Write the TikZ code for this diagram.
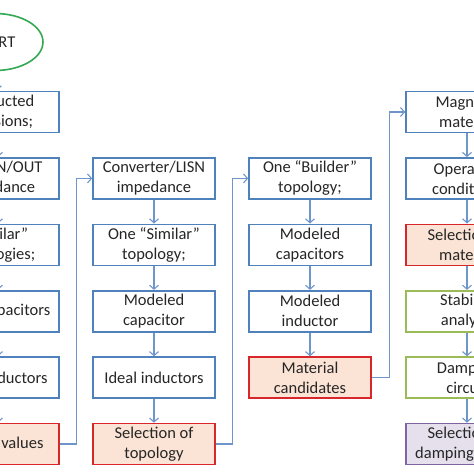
\documentclass[tikz,border=0pt]{standalone}
\usepackage{fontspec}
\setmainfont{Carlito}
\usetikzlibrary{arrows.meta,shapes.geometric}

\definecolor{boxblue}{HTML}{4F81BD}
\definecolor{flowblue}{HTML}{6E96CA}
\definecolor{pickred}{HTML}{D9262A}
\definecolor{pickfill}{HTML}{FBE4D5}
\definecolor{checkgreen}{HTML}{9BBB59}
\definecolor{damppurple}{HTML}{8064A2}
\definecolor{dampfill}{HTML}{E5E0EC}
\definecolor{startgreen}{HTML}{34A853}

\begin{document}
\begin{tikzpicture}[x=1pt,y=-1pt,node distance=66.4pt,
  every node/.style={font=\fontsize{16.5}{20}\selectfont,text=black!85},
  block/.style={draw=boxblue,line width=1.6pt,fill=white,minimum width=122pt,minimum height=41pt,align=center,inner sep=1pt},
  pick/.style={block,draw=pickred,fill=pickfill},
  check/.style={block,draw=checkgreen},
  damp/.style={block,draw=damppurple,fill=dampfill},
  start/.style={ellipse,draw=startgreen,line width=1.6pt,fill=white,minimum width=96pt,minimum height=57pt},
  flow/.style={->,>={Straight Barb[length=4pt,width=9pt]},draw=flowblue,line width=1.1pt}]

\path[use as bounding box] (0,0) rectangle (474,474);
\clip (0,0) rectangle (474,474);

% column 1
\node[start] (S)   at (-5,42)   {START};
\node[block] (C1a) at (-2,112)  {Conducted\\emissions;};
\node[block] (C1b) [below of=C1a] {Filter IN/OUT\\impedance};
\node[block] (C1c) [below of=C1b] {“Similar”\\topologies;};
\node[block] (C1d) [below of=C1c] {Ideal capacitors};
\node[block] (C1e) [below of=C1d] {Ideal inductors};
\node[pick]  (C1f) [below of=C1e] {Design values};

% column 2
\node[block] (C2b) at (154,178.4) {Converter/LISN\\impedance};
\node[block] (C2c) [below of=C2b] {One “Similar”\\topology;};
\node[block] (C2d) [below of=C2c] {Modeled\\capacitor};
\node[block] (C2e) [below of=C2d] {Ideal inductors};
\node[pick]  (C2f) [below of=C2e] {Selection of\\topology};

% column 3
\node[block] (C3b) at (310,178.4) {One “Builder”\\topology;};
\node[block] (C3c) [below of=C3b] {Modeled\\capacitors};
\node[block] (C3d) [below of=C3c] {Modeled\\inductor};
\node[pick]  (C3e) [below of=C3d] {Material\\candidates};

% column 4
\node[block] (C4a) at (467,112) {Magnetic\\material};
\node[block] (C4b) [below of=C4a] {Operating\\conditions};
\node[pick]  (C4c) [below of=C4b] {Selection of\\material};
\node[check] (C4d) [below of=C4c] {Stability\\analysis};
\node[check] (C4e) [below of=C4d] {Damping\\circuit};
\node[damp]  (C4f) [below of=C4e] {Selection of\\damping circuit};

\path[flow]
	(S)   edge (C1a)
	(C1a) edge (C1b)
	(C1b) edge (C1c)
	(C1c) edge (C1d)
	(C1d) edge (C1e)
	(C1e) edge (C1f);

\path[flow]
	(C2b) edge (C2c)
	(C2c) edge (C2d)
	(C2d) edge (C2e)
	(C2e) edge (C2f);

\path[flow]
	(C3b) edge (C3c)
	(C3c) edge (C3d)
	(C3d) edge (C3e);

\path[flow]
	(C4a) edge (C4b)
	(C4b) edge (C4c)
	(C4c) edge (C4d)
	(C4d) edge (C4e)
	(C4e) edge (C4f);

% feedback to next column
\draw[flow] (C1f.east) -- ++(17,0) |- (C2b.west);
\draw[flow] (C2f.east) -- ++(17,0) |- (C3b.west);
\draw[flow] (C3e.east) -- ++(18,0) |- (C4a.west);

\end{tikzpicture}
\end{document}
